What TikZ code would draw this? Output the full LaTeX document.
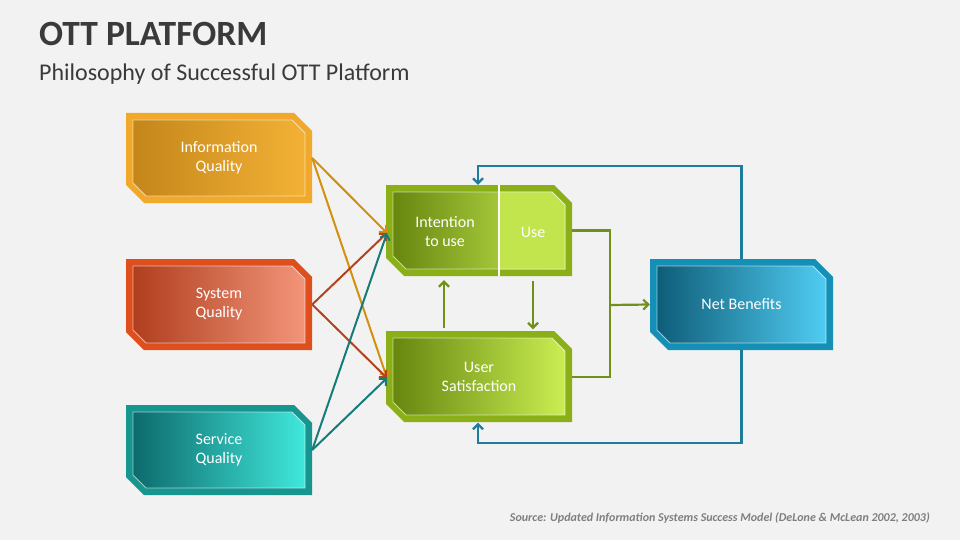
\documentclass[tikz,border=0pt]{standalone}
\usepackage{fontspec}
\setmainfont{Carlito}
\usetikzlibrary{arrows.meta}
\definecolor{bg}{HTML}{F2F2F2}
\definecolor{titlec}{HTML}{3A3A3A}
\definecolor{srcc}{HTML}{7F7F7F}
\definecolor{infoO}{HTML}{F0A92A}\definecolor{infoL}{HTML}{C4861A}\definecolor{infoR}{HTML}{F3B236}
\definecolor{sysO}{HTML}{DF4F1E}\definecolor{sysL}{HTML}{B03E1E}\definecolor{sysR}{HTML}{F2957A}
\definecolor{serO}{HTML}{17958F}\definecolor{serL}{HTML}{0D6A6C}\definecolor{serR}{HTML}{40E8DC}
\definecolor{grnO}{HTML}{8BAF16}\definecolor{grnL}{HTML}{66860F}\definecolor{grnR}{HTML}{CAEE52}
\definecolor{grnU}{HTML}{C2E44C}
\definecolor{netO}{HTML}{1490B6}\definecolor{netL}{HTML}{0E5D78}\definecolor{netR}{HTML}{50CCF2}
\definecolor{infoA}{HTML}{D4900F}\definecolor{sysA}{HTML}{B4431C}\definecolor{serA}{HTML}{167C7A}
\definecolor{grnA}{HTML}{71901A}\definecolor{netA}{HTML}{1E7C9C}
\tikzset{
  boxtext/.style={text=white, font=\fontsize{16}{19}\selectfont, align=center, inner sep=0pt},
  conn/.style={line width=2pt, -{Straight Barb[length=5pt,width=10pt,line width=2pt]}},
  plain/.style={line width=2.2pt},
  tipped/.style={line width=2.2pt, -{Straight Barb[length=5pt,width=10pt,line width=2.2pt]}},
}
% #1 x0, #2 y0, #3 x1, #4 y1, #5 outer, #6 left, #7 right
\newcommand\ottshape[7]{%
  \fill[#5] (#1,#2) -- (#3-18,#2) -- (#3,#2+18) -- (#3,#4) -- (#1+18,#4) -- (#1,#4-18) -- cycle;
  \shade[left color=#6, right color=#7] (#1+7,#2+7) -- (#3-20,#2+7) -- (#3-7,#2+20) -- (#3-7,#4-7) -- (#1+20,#4-7) -- (#1+7,#4-20) -- cycle;
  \draw[white, opacity=0.6, line width=0.8pt] (#1+7,#2+7) -- (#3-20,#2+7) -- (#3-7,#2+20) -- (#3-7,#4-7) -- (#1+20,#4-7) -- (#1+7,#4-20) -- cycle;
}
\begin{document}
\begin{tikzpicture}[x=1pt,y=-1pt]
\fill[bg] (0,0) rectangle (960,540);
\useasboundingbox (0,0) rectangle (960,540);
\node[anchor=base west, inner sep=0pt, text=titlec, font=\fontsize{35.5}{40}\selectfont\bfseries] (title) at (39,46) {OTT PLATFORM};
\node[anchor=base west, inner sep=0pt, text=titlec, font=\fontsize{24}{28}\selectfont] (subtitle) at (39,81) {Philosophy of Successful OTT Platform};
\node[anchor=base east, inner sep=0pt, text=srcc, font=\fontsize{12}{14}\selectfont\bfseries\itshape] (source) at (930,521) {Source: Updated Information Systems Success Model (DeLone \& McLean 2002, 2003)};

% boxes
\ottshape{126}{113}{312}{203}{infoO}{infoL}{infoR}
\node[boxtext, minimum width=186pt, minimum height=90pt] (info) at (219,158) {Information\\Quality};
\ottshape{126}{259}{312}{350}{sysO}{sysL}{sysR}
\node[boxtext, minimum width=186pt, minimum height=91pt] (sys) at (219,304.5) {System\\Quality};
\ottshape{126}{405}{312}{495}{serO}{serL}{serR}
\node[boxtext, minimum width=186pt, minimum height=90pt] (ser) at (219,450) {Service\\Quality};

% intention / use
\ottshape{386}{185}{572}{276}{grnO}{grnL}{grnR}
\fill[grnU] (499,192) -- (552,192) -- (565,205) -- (565,269) -- (499,269) -- cycle;
\draw[white, opacity=0.6, line width=0.8pt] (499,192) -- (552,192) -- (565,205) -- (565,269) -- (499,269);
\draw[white, line width=2pt] (499,185) -- (499,276);
\node[inner sep=0pt, minimum width=186pt, minimum height=91pt] (iu) at (479,230.5) {};
\node[boxtext] (intention) at (445,232) {Intention\\to use};
\node[boxtext] (use) at (533,232) {Use};

\ottshape{386}{331}{572}{422}{grnO}{grnL}{grnR}
\node[boxtext, minimum width=186pt, minimum height=91pt] (us) at (479,377) {User\\Satisfaction};

\ottshape{650}{259}{833}{350}{netO}{netL}{netR}
\node[boxtext, minimum width=183pt, minimum height=91pt] (nb) at (741.5,304.5) {Net Benefits};

% input arrows
\coordinate (iuin) at (387,233);
\coordinate (usin) at (387,378);
\draw[conn, infoA] (info.east) -- (iuin);
\draw[conn, infoA] (info.east) -- (usin);
\draw[conn, sysA] (sys.east) -- (iuin);
\draw[conn, sysA] (sys.east) -- (usin);
\draw[conn, serA] (ser.east) -- (iuin);
\draw[conn, serA] (ser.east) -- (usin);

% green connectors
\coordinate (jn) at (610,305);
\coordinate (xup) at (444,0);
\coordinate (xdn) at (533,0);
\draw[plain, grnA] (iu.east) -| (jn);
\draw[plain, grnA] (us.east) -| (jn);
\draw[tipped, grnA] (jn) -- (nb.west);
\draw[tipped, grnA, shorten <=3pt, shorten >=4pt] (us.north -| xup) -- (iu.south -| xup);
\draw[tipped, grnA, shorten <=5pt, shorten >=2pt] (iu.south -| xdn) -- (us.north -| xdn);

% blue feedback
\coordinate (tl) at (478,166);
\coordinate (bl) at (478,443);
\draw[tipped, netA] (nb.north) |- (tl) -- (iu.north -| tl);
\draw[tipped, netA] (nb.south) |- (bl) -- (us.south -| bl);
\end{tikzpicture}
\end{document}
